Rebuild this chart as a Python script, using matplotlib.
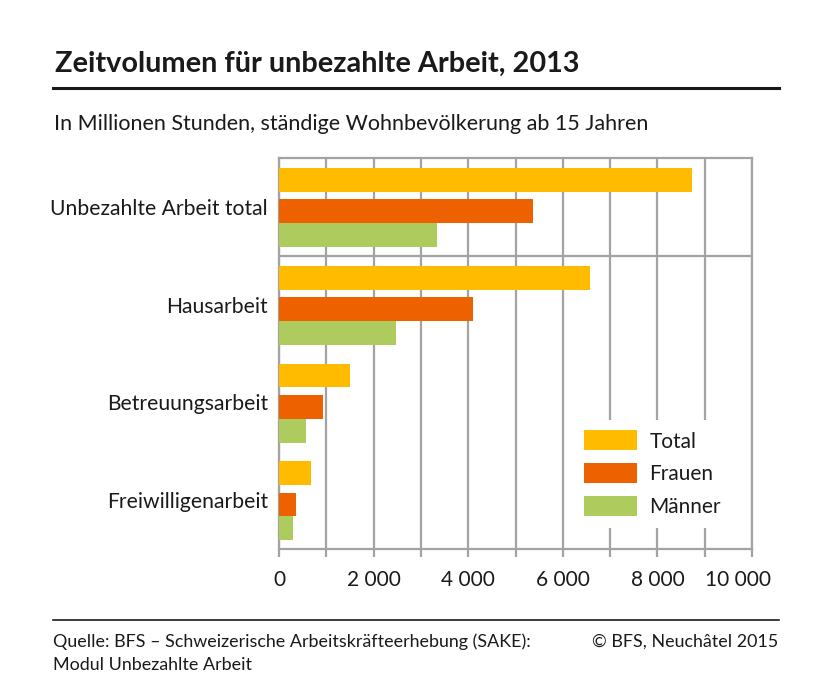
import matplotlib.pyplot as plt
import matplotlib.ticker as mticker
from matplotlib.patches import Patch
from matplotlib.transforms import ScaledTranslation
import numpy as np

plt.rcParams["font.family"] = ["Lato", "DejaVu Sans"]

# data (Mio. Stunden)
categories = ["Unbezahlte Arbeit total", "Hausarbeit", "Betreuungsarbeit", "Freiwilligenarbeit"]
total = [8725, 6575, 1494, 670]
frauen = [5377, 4101, 923, 359]
maenner = [3334, 2474, 564, 296]
series_names = ["Total", "Frauen", "Männer"]

colors = ["#FFBB00", "#EE6100", "#ADCC5D"]
grid_col = "#A3A3A3"
txt = "#1a1a1a"

W, H = 832, 691
fig = plt.figure(figsize=(W / 100, H / 100), dpi=100)

# axes placed in pixel terms
x0, x1, y_top, y_bot = 279, 752, 158, 549
ax = fig.add_axes([x0 / W, 1 - y_bot / H, (x1 - x0) / W, (y_bot - y_top) / H])

y = np.arange(len(categories))
h = 0.245
ax.barh(y - 0.275, total, height=h, color=colors[0], zorder=3)
ax.barh(y + 0.045, frauen, height=h, color=colors[1], zorder=3)
ax.barh(y + 0.29, maenner, height=h, color=colors[2], zorder=3)

ax.set_xlim(0, 10000)
ax.set_ylim(len(categories) - 0.5, -0.5)

ax.xaxis.set_major_locator(mticker.MultipleLocator(2000))
ax.xaxis.set_minor_locator(mticker.MultipleLocator(1000))
ax.xaxis.set_major_formatter(mticker.FuncFormatter(lambda v, p: f"{int(v):,}".replace(",", " ")))
ax.grid(axis="x", which="both", color=grid_col, linewidth=1.6, zorder=1)
ax.tick_params(axis="x", which="both", length=6, width=1.6, color=grid_col,
               labelsize=15, pad=9, labelcolor=txt)
ax.axhline(0.5, color=grid_col, linewidth=1.6, zorder=1)

# last label ("10 000") sits a bit left of its tick in the original
ticks = ax.xaxis.get_major_ticks()
last = [t for t, v in zip(ticks, ax.get_xticks()) if v == 10000]
for t in last:
    t.label1.set_transform(t.label1.get_transform()
                           + ScaledTranslation(-0.14, 0, fig.dpi_scale_trans))

ax.set_yticks(y)
ax.set_yticklabels(categories, fontsize=15.2, color=txt)
ax.tick_params(axis="y", length=0, pad=8)

for s in ax.spines.values():
    s.set_color(grid_col)
    s.set_linewidth(1.6)

handles = [Patch(facecolor=c, edgecolor="none") for c in colors]
leg = ax.legend(handles, series_names, loc="upper left",
                bbox_to_anchor=(574 / W, 1 - 420 / H), bbox_transform=fig.transFigure,
                fontsize=15, frameon=True, facecolor="white", edgecolor="none",
                framealpha=1, fancybox=False, borderpad=0.5,
                handlelength=2.5, handleheight=1.1, labelspacing=0.57,
                handletextpad=0.62, borderaxespad=0)
leg.set_zorder(5)
for t in leg.get_texts():
    t.set_color(txt)

# title block
fig.text(55 / W, 1 - 72 / H, "Zeitvolumen für unbezahlte Arbeit, 2013",
         fontsize=20.8, fontweight="bold", va="baseline", ha="left", color=txt)
fig.add_artist(plt.Line2D([53 / W, 779 / W], [1 - 88 / H] * 2, color=txt, linewidth=2.2))
fig.text(54 / W, 1 - 130 / H, "In Millionen Stunden, ständige Wohnbevölkerung ab 15 Jahren",
         fontsize=15.5, va="baseline", ha="left", color=txt)

# footer
fig.add_artist(plt.Line2D([53 / W, 779 / W], [1 - 620 / H] * 2, color=txt, linewidth=1.2))
fig.text(53 / W, 1 - 647 / H, "Quelle: BFS – Schweizerische Arbeitskräfteerhebung (SAKE):",
         fontsize=12.9, va="baseline", ha="left", color=txt)
fig.text(53 / W, 1 - 670 / H, "Modul Unbezahlte Arbeit",
         fontsize=12.9, va="baseline", ha="left", color=txt)
fig.text(778 / W, 1 - 647 / H, "© BFS, Neuchâtel 2015",
         fontsize=12.9, va="baseline", ha="right", color=txt)

fig.savefig("out.png", dpi=100, facecolor="white")
